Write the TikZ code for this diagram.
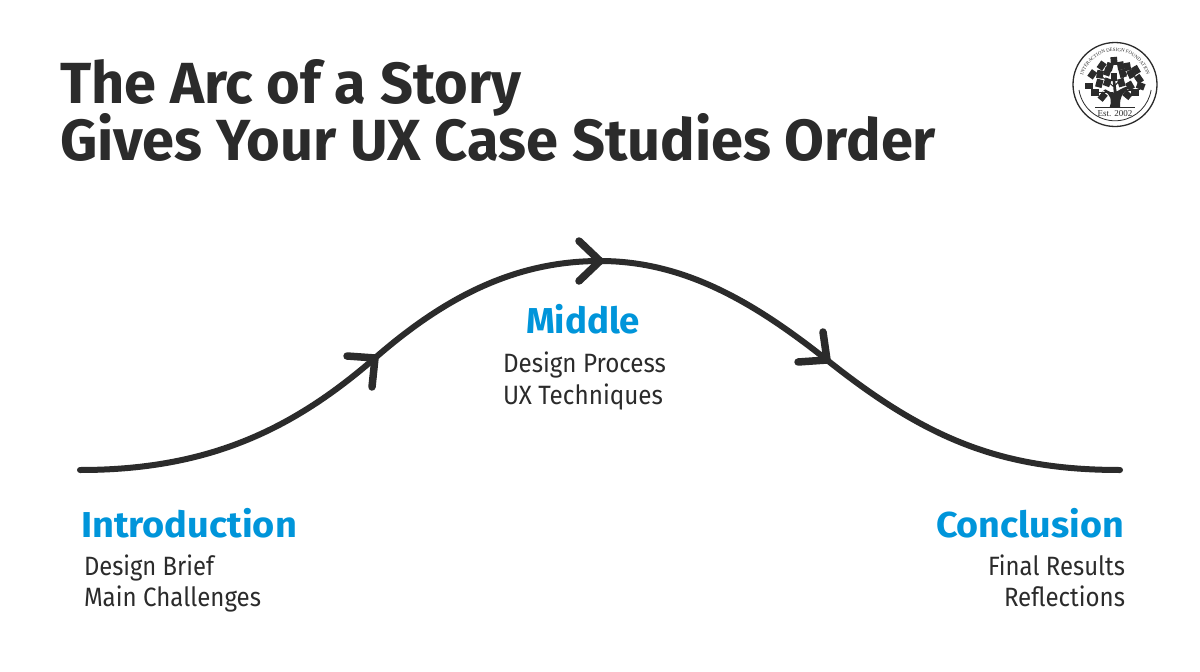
\documentclass[tikz,border=0pt]{standalone}
\usepackage{graphicx}
\usepackage{fontspec}
\setmainfont{Fira Sans}
\newfontfamily\logofont{Liberation Serif}
\usetikzlibrary{decorations.text}
\definecolor{ink}{HTML}{2B2B2B}
\definecolor{accent}{HTML}{0095DA}
\newcommand{\fitw}[2]{\resizebox{#1pt}{\height}{#2}}
\tikzset{
  x=1pt,y=-1pt,
  txt/.style={inner sep=0pt,outer sep=0pt,anchor=base west,text=ink},
  title/.style={txt,font=\fontsize{58}{58}\selectfont\bfseries},
  head/.style={txt,text=accent,font=\fontsize{36}{36}\selectfont\bfseries},
  body/.style={txt,font=\fontsize{26.5}{26.5}\selectfont},
  arc/.style={draw=ink,line width=6pt,line cap=round},
  barb/.style={draw=ink,line width=7.5pt,line cap=round,line join=round},
  leaf/.style={fill=ink,draw=none,minimum width=6.6pt,minimum height=8pt,inner sep=0pt},
}
\newcommand{\lf}[3]{\node[leaf,rotate=#3] at (#1,#2) {};}
\begin{document}
\begin{tikzpicture}
\useasboundingbox (0,0) rectangle (1200,672);
\fill[white] (0,0) rectangle (1200,672);
\node[title] (t1) at (60,103) {\fitw{461}{The Arc of a Story}};
\node[title] (t2) at (60,160) {\fitw{876}{Gives Your UX Case Studies Order}};
% arc
\coordinate (s) at (80,470);
\coordinate (a1) at (375,358);
\coordinate (a2) at (600,261);
\coordinate (a3) at (827,360);
\coordinate (e) at (1120,470);
\draw[arc] (s) .. controls (205,470) and (290,432) .. (a1)
  .. controls (445,297) and (515,261) .. (a2)
  .. controls (685,261) and (755,303) .. (a3)
  .. controls (925,438) and (1000,470) .. (e);
\coordinate (a1u) at (347,356);
\coordinate (a1v) at (372,387);
\coordinate (a2u) at (579,241);
\coordinate (a2v) at (579,281);
\coordinate (a3u) at (823,332);
\coordinate (a3v) at (798,362);
\draw[barb] (a1u) -- (a1) -- (a1v);
\draw[barb] (a2u) -- (a2) -- (a2v);
\draw[barb] (a3u) -- (a3) -- (a3v);
% labels
\node[head] (h1) at (81,537) {\fitw{216}{Introduction}};
\node[body] (b1) at (84,575) {\fitw{130}{Design Brief}};
\node[body] (b2) at (84,606) {\fitw{177}{Main Challenges}};
\node[head] (h2) at (526,333) {\fitw{114}{Middle}};
\node[body] (b3) at (503,372) {\fitw{163}{Design Process}};
\node[body] (b4) at (503,404) {\fitw{160}{UX Techniques}};
\node[head] (h3) at (936,537) {\fitw{188}{Conclusion}};
\node[body] (b5) at (988,575) {\fitw{137}{Final Results}};
\node[body] (b6) at (1004,606) {\fitw{121}{Reflections}};
% logo
\coordinate (lc) at (1115,84.5);
\draw[ink,line width=1.3pt] (lc) circle[radius=42pt];
\draw[ink,line width=0.8pt] (1079,90) arc[start angle=189,end angle=351,radius=36.5pt];
\path[decorate,decoration={text along path,text align=center,
   text={|\logofont\fontsize{4.9}{4.9}\selectfont\color{ink}|INTERACTION DESIGN FOUNDATION}}]
   (1082.5,90) arc[start angle=190,end angle=-10,radius=33pt];
\node[inner sep=0pt,anchor=base,text=ink,font=\logofont\fontsize{9}{9}\selectfont] (est) at (1115,116.5) {Est. 2002};
\begin{scope}[shift={(1050,50)},x=0.3333pt,y=-0.3333pt]
\draw[ink,line width=0.8pt] (135,172) -- (255,172);
\fill[ink] (179,172) .. controls (186,150) and (184,135) .. (160,122) -- (166,118)
  .. controls (180,126) and (187,130) .. (191,128) .. controls (190,105) and (188,95) .. (186,80)
  -- (194,80) .. controls (197,100) and (198,115) .. (200,125)
  .. controls (215,115) and (225,110) .. (240,108) -- (242,113)
  .. controls (225,120) and (208,135) .. (210,172) -- cycle;
\draw[ink,line width=1pt] (190,128) -- (140,128);
\draw[ink,line width=1pt] (200,125) -- (270,118);
\draw[ink,line width=1pt] (191,110) -- (150,75);
\draw[ink,line width=1pt] (196,105) -- (232,70);
\lf{155}{47}{-35}\lf{179}{50}{-15}\lf{192}{33}{5}\lf{212}{47}{10}\lf{232}{50}{10}\lf{258}{60}{30}
\lf{127}{73}{-35}\lf{150}{73}{-10}\lf{172}{65}{-20}\lf{192}{80}{0}\lf{218}{70}{15}\lf{243}{72}{25}\lf{267}{87}{35}
\lf{116}{108}{90}\lf{135}{128}{90}\lf{148}{100}{-15}\lf{172}{97}{-20}\lf{214}{98}{15}\lf{240}{107}{30}\lf{272}{108}{70}
\lf{158}{140}{-40}\lf{232}{135}{50}\lf{255}{128}{90}
\end{scope}
\end{tikzpicture}
\end{document}
